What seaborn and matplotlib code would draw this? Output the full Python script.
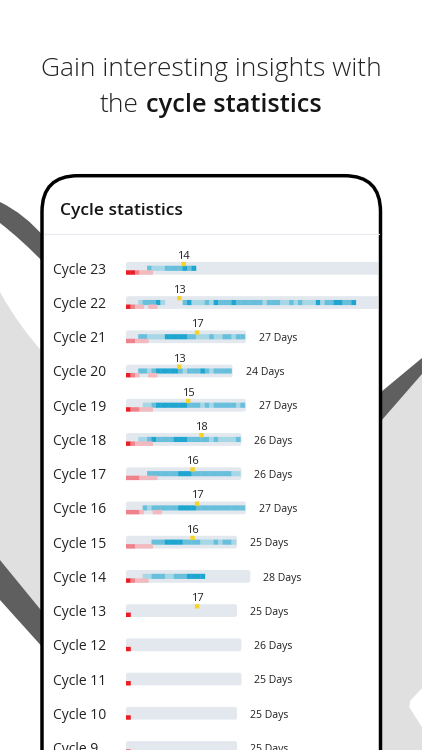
import matplotlib
matplotlib.use('agg')
import pandas as pd
import seaborn as sns
import matplotlib.pyplot as plt
from matplotlib.patches import FancyBboxPatch, Polygon, PathPatch
from matplotlib.path import Path

cycles = ["Cycle %d" % n for n in range(23, 8, -1)]
bar_days = [58, 58, 27, 24, 27, 26, 26, 27, 25, 28, 25, 26, 26, 25, 25]
day_labels = [None, None, 27, 24, 27, 26, 26, 27, 25, 28, 25, 26, 25, 25, 25]
ovulation = [14, 13, 17, 13, 15, 18, 16, 17, 16, None, 17, None, None, None, None]

# 0 = no cell, 1..3 = light to strong
blue = [
    [0,0,0,0,0,2,1,1,1,2,2,2,2,3,2,3],
    [0,0,0,1,2,2,2,3,1,0,0,0,0,2,3,1,1,1,2,1,3,2,2,2,3,2,2,2,2,2,2,1,2,2,2,1,1,2,1,2,1,1,1,3,1,2,2,3,3,2,2,3],
    [0,0,0,2,2,1,1,1,1,3,3,3,3,3,2,2,1,1,1,2,1,1,2,2,1,2,2],
    [0,0,0,2,2,1,2,3,3,3,3,3,2,1,2,2,2,3,2,1,2,2,2,2],
    [0,0,0,0,1,1,2,3,3,3,3,3,3,3,2,2,2,1,2,1,2,2,2,2,2,1,2],
    [0,0,0,1,1,2,3,2,2,2,2,3,3,3,2,2,2,2,2,1,2,1,1,1,1,2],
    [0,0,0,0,0,2,2,2,2,2,2,2,3,3,3,2,2,2,2,2,2,2,2,2,1,1],
    [0,0,0,0,2,1,2,2,2,2,2,2,3,3,3,3,2,2,2,2,2,2,2,2,2,2,2],
    [0,0,0,0,0,0,2,2,2,3,3,3,3,2,2,2,2,1,1,1,2,1,2,2,1],
    [0,0,0,0,1,1,2,2,2,1,1,2,2,2,3,3,3,3],
    [], [], [], [], [],
]
red = [
    [3,3,2,1,1,1],
    [3,2,1,1,0,1,1],
    [2,2,1,1,1],
    [3,2,1,0,0,1,1],
    [3,2,2,1,1,1],
    [3,2,1,1,1,1],
    [2,2,2,1,1,1,1],
    [2,2,2,1,0,0,1,1],
    [2,2,1,1,1,1],
    [3,2,1,1,1],
    [3], [3], [3], [3], [3],
]

BLUES = {1: "#a6d7e7", 2: "#68bfdc", 3: "#1ea6d1"}
REDS = {1: "#f2b9bf", 2: "#f0808a", 3: "#ec1c24"}
PX_DAY = 4.44
PX_ROW = 34.23

sns.set_theme(style="white")
plt.rcParams['font.family'] = ['Open Sans', 'DejaVu Sans']

fig = plt.figure(figsize=(4.22, 7.5), dpi=100)

# page behind the phone, in pixels
bg = fig.add_axes([0, 0, 1, 1])
bg.set_xlim(0, 422)
bg.set_ylim(750, 0)
bg.axis('off')

LIGHT = "#e0e0e0"
DARK = "#5f5f5f"
curve = [Path.MOVETO, Path.CURVE3, Path.CURVE3, Path.LINETO, Path.CURVE3, Path.CURVE3, Path.CLOSEPOLY]
bg.add_patch(PathPatch(Path([(0, 292), (18, 325), (45, 355), (45, 615), (45, 615), (0, 560), (0, 292)], curve),
                       fc=LIGHT, lw=0))
bg.add_patch(Polygon([(0, 560), (45, 615), (45, 650), (0, 600)], fc=DARK, lw=0))
bg.add_patch(PathPatch(Path([(0, 202), (25, 214), (45, 238), (45, 264), (22, 240), (0, 223), (0, 202)], curve),
                       fc=DARK, lw=0))
bg.add_patch(Polygon([(375, 428), (422, 374), (422, 750), (375, 750)], fc=LIGHT, lw=0))
bg.add_patch(Polygon([(375, 397), (422, 358), (422, 374), (375, 428)], fc=DARK, lw=0))
bg.add_patch(Polygon([(422, 689), (411, 701), (410, 707), (422, 726)], fc="white", ec="white", lw=1, joinstyle='round'))

# phone
bg.add_patch(FancyBboxPatch((42, 175.7), 338.5, 700, boxstyle="round,pad=0,rounding_size=36",
                            fc="white", ec="black", lw=2.5))
bg.plot([43.7, 378.8], [233.5, 233.5], color="#e8e9f1", lw=0.8)
bg.text(59.5, 211, "Cycle statistics", fontsize=12.5, weight='semibold', color="#151515", va='center')

bg.text(211, 70, "Gain interesting insights with", fontsize=19, weight='light', color="#222222",
        ha='center', va='center')
bg.text(100, 105, "the", fontsize=19, weight='light', color="#222222", va='center')
bg.text(146, 105, "cycle statistics", fontsize=18.3, weight='semibold', color="#151515", va='center')

# chart
ax = fig.add_axes([126 / 422, 0, (378 - 126) / 422, (750 - 240) / 750])
ax.patch.set_alpha(0)
df = pd.DataFrame({"cycle": cycles, "days": bar_days})
sns.barplot(data=df, y="cycle", x="days", order=cycles, color="#e3e8ee", saturation=1, width=0.371, ax=ax)

for bar in list(ax.patches):
    bar.set_visible(False)
    ax.add_patch(FancyBboxPatch((bar.get_x(), bar.get_y()), bar.get_width(), bar.get_height(),
                                boxstyle="round,pad=0,rounding_size=0.5", mutation_aspect=PX_DAY / PX_ROW,
                                fc="#e3e8ee", lw=0))

ax.set_xlim(0, (378 - 126) / PX_DAY)
ax.set_ylim((750 - 268.3) / PX_ROW, (240 - 268.3) / PX_ROW)
ax.set(xlabel='', ylabel='')
ax.set_xticks([])
ax.tick_params(axis='y', length=0, pad=73 * 0.72, labelsize=10, labelcolor="#222222")
for lab in ax.get_yticklabels():
    lab.set_ha('left')
sns.despine(ax=ax, left=True, bottom=True)

# cells a touch wider than one day so no seams show between them
CELL = 1.08
for row in range(len(cycles)):
    for i, level in enumerate(blue[row]):
        if level:
            ax.barh(row, CELL, left=i - 0.25, height=0.15, color=BLUES[level], lw=0, snap=False)
    for i, level in enumerate(red[row]):
        if level:
            ax.barh(row + 0.123, CELL, left=i, height=0.129, color=REDS[level], lw=0, snap=False)
    if ovulation[row] is not None:
        ax.barh(row - 0.125, 1, left=ovulation[row] - 1.5, height=0.125, color="#f5d327", lw=0, snap=False)
        ax.text(ovulation[row] - 1, row - 0.35, str(ovulation[row]), fontsize=8, color="#222222",
                ha='center', va='center', clip_on=False)
    if day_labels[row] is not None:
        ax.text(bar_days[row] + 2.93, row + 0.05, "%d Days" % day_labels[row], fontsize=7.6, color="#222222",
                va='center', clip_on=True)

fig.savefig("out.png", dpi=100)
